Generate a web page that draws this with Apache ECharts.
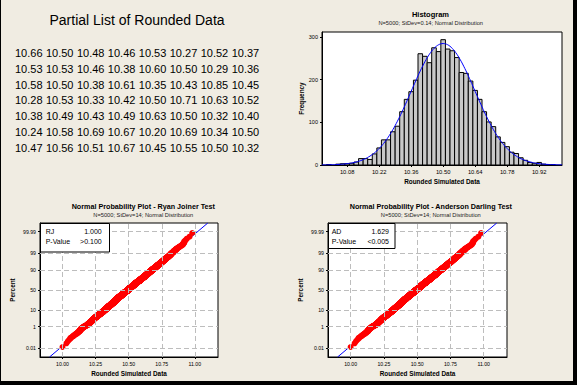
<!DOCTYPE html>
<html><head><meta charset="utf-8">
<script src="https://cdn.jsdelivr.net/npm/echarts@6/dist/echarts.min.js"></script>
<style>html,body{margin:0;padding:0;background:#F0ECE2;}#c{width:577px;height:385px;}</style>
</head><body><div id="c"></div>
<script>
// ---------------- data ----------------
const LIST_TITLE = 'Partial List of Rounded Data';
const LIST_ROW_1 = ['10.66','10.50','10.48','10.46','10.53','10.27','10.52','10.37'];
const LIST_ROW_2 = ['10.53','10.53','10.46','10.38','10.60','10.50','10.29','10.36'];
const LIST_ROW_3 = ['10.58','10.50','10.38','10.61','10.35','10.43','10.85','10.45'];
const LIST_ROW_4 = ['10.28','10.53','10.33','10.42','10.50','10.71','10.63','10.52'];
const LIST_ROW_5 = ['10.38','10.49','10.43','10.49','10.63','10.50','10.32','10.40'];
const LIST_ROW_6 = ['10.24','10.58','10.69','10.67','10.20','10.69','10.34','10.50'];
const LIST_ROW_7 = ['10.47','10.56','10.51','10.67','10.45','10.55','10.50','10.32'];
const LIST_ROWS = [LIST_ROW_1, LIST_ROW_2, LIST_ROW_3, LIST_ROW_4, LIST_ROW_5, LIST_ROW_6, LIST_ROW_7];

// histogram bins (midpoints, width 0.02) and counts
const BIN_MIDS = [10.00,10.02,10.04,10.06,10.08,10.10,10.12,10.14,10.16,10.18,
                  10.20,10.22,10.24,10.26,10.28,10.30,10.32,10.34,10.36,10.38,
                  10.40,10.42,10.44,10.46,10.48,10.50,10.52,10.54,10.56,10.58,
                  10.60,10.62,10.64,10.66,10.68,10.70,10.72,10.74,10.76,10.78,
                  10.80,10.82,10.84,10.86,10.88,10.90,10.92,10.94,10.96,10.98];
const BIN_COUNTS = [1,0,2,3,3,4,7,15,15,13,
                    26,40,59,59,78,91,125,154,172,199,
                    261,255,240,275,266,294,272,268,252,217,
                    215,197,175,154,125,101,90,66,53,43,
                    30,27,17,11,6,4,6,2,1,1];
const BIN_WIDTH = 0.02;

// fitted distribution parameters (from subtitles)
const DIST_N = 5000, DIST_MEAN = 10.50, DIST_SD = 0.14;

// axis ticks / labels
const HIST_X_TICKS = [10.08,10.22,10.36,10.50,10.64,10.78,10.92];
const HIST_Y_TICKS = [0,100,200,300];
const PROB_X_TICKS = [10.00,10.25,10.50,10.75,11.00];
const PROB_Y_PCTS = [0.01,1,10,50,90,99,99.99];
const PROB_Y_LABELS = ['0.01','1','10','50','90','99','99.99'];

// test statistics
const RJ_STATS = [['RJ','1.000'],['P-Value','>0.100']];
const AD_STATS = [['AD','1.629'],['P-Value','<0.005']];

// ---------------- helpers ----------------
const FONT = 'Liberation Sans, Arial, sans-serif';
function invNorm(p){
  const a=[-3.969683028665376e+01,2.209460984245205e+02,-2.759285104469687e+02,1.383577518672690e+02,-3.066479806614716e+01,2.506628277459239e+00];
  const b=[-5.447609879822406e+01,1.615858368580409e+02,-1.556989798598866e+02,6.680131188771972e+01,-1.328068155288572e+01];
  const c=[-7.784894002430293e-03,-3.223964580411365e-01,-2.400758277161838e+00,-2.549732539343734e+00,4.374664141464968e+00,2.938163982698783e+00];
  const d=[7.784695709041462e-03,3.224671290700398e-01,2.445134137142996e+00,3.754408661907416e+00];
  const pl=0.02425, ph=1-pl; let q,r;
  if(p<pl){q=Math.sqrt(-2*Math.log(p));return (((((c[0]*q+c[1])*q+c[2])*q+c[3])*q+c[4])*q+c[5])/((((d[0]*q+d[1])*q+d[2])*q+d[3])*q+1);}
  if(p<=ph){q=p-0.5;r=q*q;return (((((a[0]*r+a[1])*r+a[2])*r+a[3])*r+a[4])*r+a[5])*q/(((((b[0]*r+b[1])*r+b[2])*r+b[3])*r+b[4])*r+1);}
  q=Math.sqrt(-2*Math.log(1-p));return -(((((c[0]*q+c[1])*q+c[2])*q+c[3])*q+c[4])*q+c[5])/((((d[0]*q+d[1])*q+d[2])*q+d[3])*q+1);
}
const HIST_X_MIN = 9.97, HIST_X_MAX = 11.02;
const PROB_X_MIN = 9.83, PROB_X_MAX = 11.175;
const Z_LIM = 4.27;
const PROB_Y_TICKS = PROB_Y_PCTS.map(p => invNorm(p/100));
function probLabel(v){
  let best=0;
  PROB_Y_TICKS.forEach((t,i)=>{ if(Math.abs(t-v)<Math.abs(PROB_Y_TICKS[best]-v)) best=i; });
  return PROB_Y_LABELS[best];
}

// normal fit curve over histogram
const curve = [];
for(let x=HIST_X_MIN; x<=HIST_X_MAX+1e-9; x+=0.005){
  const z=(x-DIST_MEAN)/DIST_SD;
  curve.push([x, DIST_N*BIN_WIDTH*Math.exp(-0.5*z*z)/(DIST_SD*Math.sqrt(2*Math.PI))]);
}
// probability plot points reconstructed from the binned counts
const total = BIN_COUNTS.reduce((s,v)=>s+v,0);
const probPts = [];
(function(){
  let rank=0;
  BIN_MIDS.forEach((m,i)=>{
    const c=BIN_COUNTS[i], lo=Math.floor(c/2);
    for(let k=0;k<c;k++){
      rank++;
      const x = k<lo ? m-0.01 : m;
      probPts.push([+x.toFixed(2), invNorm((rank-0.3)/(total+0.4))]);
    }
  });
})();
const refLine = [[DIST_MEAN-Z_LIM*DIST_SD,-Z_LIM],[DIST_MEAN+Z_LIM*DIST_SD,Z_LIM]];

// ---------------- chart ----------------
const chart = echarts.init(document.getElementById('c'), null, {renderer:'svg', width:577, height:385});

function valueAxis(o){
  return Object.assign({
    type:'value',
    axisLine:{show:true, onZero:false, lineStyle:{color:'#000', width:1}},
    splitLine:{show:false},
    nameLocation:'middle',
    nameTextStyle:{fontWeight:'bold', fontSize:6.4, fontFamily:FONT, color:'#000'}
  }, o);
}
function tick(vals){ return {show:true, length:2, customValues:vals, lineStyle:{color:'#000'}}; }
function lab(vals, size, fmt, margin){ return {customValues:vals, fontSize:size, fontFamily:FONT, color:'#000', margin:margin, formatter:fmt}; }

const gridStyle = {show:true, backgroundColor:'#fff', borderColor:'#000', borderWidth:1};
const dashStyle = {type:[5,3], color:'#BDBDBD', width:1};
function gridMark(){
  return {
    silent:true, symbol:['none','none'], animation:false, label:{show:false}, z:1,
    lineStyle:dashStyle, emphasis:{disabled:true},
    data: PROB_X_TICKS.map(v=>({xAxis:v})).concat(PROB_Y_TICKS.map(v=>({yAxis:v})))
  };
}
// statistics box drawn as a custom series anchored at the plot's top-left corner
function statSeries(gi, stats, w, h, tx, vx){
  return {
    type:'custom', xAxisIndex:gi, yAxisIndex:gi, z:20, silent:true, clip:false,
    encode:{x:0,y:1}, data:[[PROB_X_MIN, Z_LIM]],
    renderItem(params, api){
      const p = api.coord([api.value(0), api.value(1)]);
      const ch = [{type:'rect', z2:0, shape:{x:p[0]+0.5, y:p[1]+0.5, width:w, height:h},
        style:{fill:'#ffffff', stroke:'#000000', lineWidth:1}}];
      stats.forEach((s,i)=>{
        ch.push({type:'text', z2:1, x:p[0]+tx, y:p[1]+8.5+i*10,
          style:{text:s[0], fill:'#000', fontSize:7, fontFamily:FONT, align:'left', verticalAlign:'middle'}});
        ch.push({type:'text', z2:1, x:p[0]+vx, y:p[1]+8.5+i*10,
          style:{text:s[1], fill:'#000', fontSize:7, fontFamily:FONT, align:'right', verticalAlign:'middle'}});
      });
      return {type:'group', children:ch};
    }
  };
}

const graphic = [];
// frame edges
graphic.push({type:'rect', shape:{x:0,y:0,width:1,height:385}, style:{fill:'#000'}, silent:true});
graphic.push({type:'rect', shape:{x:573,y:0,width:4,height:385}, style:{fill:'#000'}, silent:true});
graphic.push({type:'rect', shape:{x:0,y:381,width:577,height:4}, style:{fill:'#000'}, silent:true});
function txt(t, x, y, size, align, bold, color){
  return {type:'text', x:x, y:y, silent:true, style:{text:t, fill:color||'#000', fontSize:size, fontFamily:FONT,
    fontWeight: bold?'bold':'normal', align:align, textAlign:align, verticalAlign:'middle', textVerticalAlign:'middle'}};
}
graphic.push(txt(LIST_TITLE, 137, 20, 14, 'center'));
LIST_ROWS.forEach((row,r)=>row.forEach((v,j)=>graphic.push(txt(v, 15+j*30.95, 53+r*15.75, 11, 'left'))));
// titles
graphic.push(txt('Histogram', 430.5, 14.7, 7.5, 'center', true));
graphic.push(txt('N=5000; StDev=0.14; Normal Distribution', 430.7, 23.3, 5.7, 'center', false, '#222'));
graphic.push(txt('Normal Probability Plot - Ryan Joiner Test', 143.3, 206, 7.2, 'center', true));
graphic.push(txt('N=5000; StDev=14; Normal Distribution', 143.3, 214.5, 5.7, 'center', false, '#222'));
graphic.push(txt('Normal Probability Plot - Anderson Darling Test', 430.8, 206, 7.2, 'center', true));
graphic.push(txt('N=5000; StDev=14; Normal Distribution', 430.8, 214.7, 5.7, 'center', false, '#222'));

const option = {
  backgroundColor:'#F0ECE2',
  animation:false,
  grid:[
    Object.assign({left:322, top:32, width:240, height:133}, gridStyle),
    Object.assign({left:40, top:223, width:178, height:134}, gridStyle),
    Object.assign({left:328, top:223, width:179, height:134}, gridStyle)
  ],
  xAxis:[
    valueAxis({gridIndex:0, min:HIST_X_MIN, max:HIST_X_MAX, axisTick:tick(HIST_X_TICKS),
      axisLabel:lab(HIST_X_TICKS, 5.8, v=>v.toFixed(2), 4), name:'Rounded Simulated Data', nameGap:13}),
    valueAxis({gridIndex:1, min:PROB_X_MIN, max:PROB_X_MAX, axisTick:tick(PROB_X_TICKS),
      axisLabel:lab(PROB_X_TICKS, 5.2, v=>v.toFixed(2), 4), name:'Rounded Simulated Data', nameGap:13}),
    valueAxis({gridIndex:2, min:PROB_X_MIN, max:PROB_X_MAX, axisTick:tick(PROB_X_TICKS),
      axisLabel:lab(PROB_X_TICKS, 5.2, v=>v.toFixed(2), 4), name:'Rounded Simulated Data', nameGap:13})
  ],
  yAxis:[
    valueAxis({gridIndex:0, min:0, max:312, axisTick:tick(HIST_Y_TICKS),
      axisLabel:lab(HIST_Y_TICKS, 5.5, v=>String(Math.round(v)), 4), name:'Frequency', nameGap:18, nameRotate:90}),
    valueAxis({gridIndex:1, min:-Z_LIM, max:Z_LIM, axisTick:tick(PROB_Y_TICKS),
      axisLabel:lab(PROB_Y_TICKS, 5.2, probLabel, 4), name:'Percent', nameGap:25, nameRotate:90}),
    valueAxis({gridIndex:2, min:-Z_LIM, max:Z_LIM, axisTick:tick(PROB_Y_TICKS),
      axisLabel:lab(PROB_Y_TICKS, 5.2, probLabel, 4), name:'Percent', nameGap:25, nameRotate:90})
  ],
  series:[
    {type:'custom', xAxisIndex:0, yAxisIndex:0, encode:{x:0,y:1}, silent:true, z:2,
      data: BIN_MIDS.map((m,i)=>[m, BIN_COUNTS[i]]),
      renderItem(params, api){
        const m=api.value(0), c=api.value(1);
        if(!c) return null;
        const p0=api.coord([m-BIN_WIDTH/2, c]);
        const p1=api.coord([m+BIN_WIDTH/2, 0]);
        return {type:'rect', shape:{x:p0[0], y:p0[1], width:p1[0]-p0[0], height:p1[1]-p0[1]},
          style:{fill:'#C8C8C8', stroke:'#000', lineWidth:1}};
      }},
    {type:'line', xAxisIndex:0, yAxisIndex:0, data:curve, showSymbol:false, symbol:'none', silent:true, z:3,
      lineStyle:{color:'#0000FF', width:1}},
    {type:'line', xAxisIndex:1, yAxisIndex:1, data:refLine, symbol:'none', silent:true, z:2,
      lineStyle:{color:'#0000FF', width:1}, markLine:gridMark()},
    {type:'scatter', xAxisIndex:1, yAxisIndex:1, data:probPts, symbol:'circle', symbolSize:6, silent:true, z:3,
      progressive:0, itemStyle:{color:'#FF0000', opacity:1}},
    statSeries(1, RJ_STATS, 69, 28.5, 5.7, 61.7),
    {type:'line', xAxisIndex:2, yAxisIndex:2, data:refLine, symbol:'none', silent:true, z:2,
      lineStyle:{color:'#0000FF', width:1}, markLine:gridMark()},
    {type:'scatter', xAxisIndex:2, yAxisIndex:2, data:probPts, symbol:'circle', symbolSize:6, silent:true, z:3,
      progressive:0, itemStyle:{color:'#FF0000', opacity:1}},
    statSeries(2, AD_STATS, 66.5, 25, 3.7, 61)
  ],
  graphic: {elements: graphic}
};
chart.setOption(option);
</script>
</body></html>
